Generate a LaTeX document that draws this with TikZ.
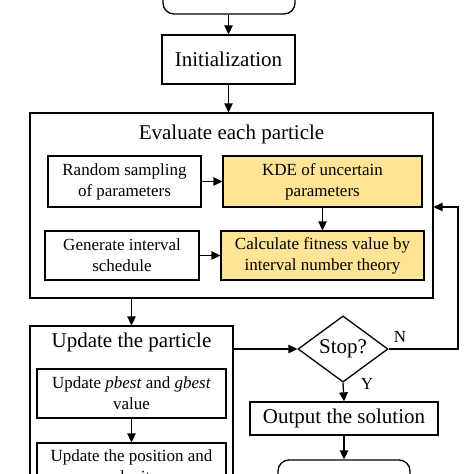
\documentclass[tikz,border=0pt]{standalone}
\usepackage{fontspec}
\setmainfont{Liberation Serif}
\usetikzlibrary{shapes.geometric,arrows.meta}
\definecolor{gold}{RGB}{255,228,150}
\begin{document}
\begin{tikzpicture}[x=1pt,y=-1pt,
  line width=1.3pt,
  arr/.style={-{Triangle[length=9pt,width=8.5pt]}},
  boxbig/.style={draw,rectangle,inner sep=0pt,align=center,font=\fontsize{21}{25}\selectfont},
  boxsm/.style={draw,rectangle,inner sep=0pt,align=center,font=\fontsize{17}{21}\selectfont},
  term/.style={draw,rectangle,rounded corners=11pt,inner sep=0pt},
  lbl/.style={font=\fontsize{17}{21}\selectfont,inner sep=0pt}]
\useasboundingbox (0,0) rectangle (474,474);
\begin{scope}
\clip (0,0) rectangle (474,474);
% outer containers
\node[draw,rectangle,inner sep=0pt,minimum width=403pt,minimum height=185pt] (eval) at (231.5,205.5) {};
\node[font=\fontsize{21}{25}\selectfont,inner sep=0pt] (evalt) at (231.5,134) {Evaluate each particle};
\node[draw,rectangle,inner sep=0pt,minimum width=203pt,minimum height=190pt] (update) at (131.5,421) {};
\node[font=\fontsize{21}{25}\selectfont,inner sep=0pt] (updt) at (131.5,342) {Update the particle};
% terminals
\node[term,minimum width=132pt,minimum height=44pt] (start) at (229,-8) {};
\node[term,minimum width=132pt,minimum height=50pt] (end) at (344,485) {};
% boxes
\node[boxbig,minimum width=133pt,minimum height=49pt] (init) at (228.5,59.5) {Initialization};
\node[boxsm,minimum width=153pt,minimum height=51pt] (rand) at (124.5,181.5) {Random sampling\\of parameters};
\node[boxsm,fill=gold,minimum width=199pt,minimum height=51pt] (kde) at (322.5,181.5) {KDE of uncertain\\parameters};
\node[boxsm,minimum width=154pt,minimum height=49pt] (gen) at (122,255.5) {Generate interval\\schedule};
\node[boxsm,fill=gold,minimum width=203pt,minimum height=49pt] (calc) at (322.5,255.5) {Calculate fitness value by\\interval number theory};
\node[boxsm,minimum width=189pt,minimum height=49pt] (pbest) at (131.5,393.5) {Update \textit{pbest} and \textit{gbest}\\value};
\node[boxsm,minimum width=189pt,minimum height=50pt] (pos) at (131.5,468) {Update the position and\\velocity};
\node[draw,diamond,inner sep=0pt,minimum width=90pt,minimum height=48pt,font=\fontsize{21}{25}\selectfont] (stop) at (343,349) {Stop?};
\node[boxbig,minimum width=188pt,minimum height=33pt] (out) at (344,418.5) {Output the solution};
\coordinate (fb) at (458,207);
% connectors
\draw[arr] (start.south -| init.north) -- (init.north);
\draw[arr] (init.south) -- (init.south |- eval.north);
\draw[arr] (rand) -- (kde);
\draw[arr] (kde) -- (calc);
\draw[arr] (gen) -- (calc);
\draw[arr] (update.north |- eval.south) -- (update.north);
\draw[arr] (pbest) -- (pos);
\draw[arr] (update.east |- stop.west) -- (stop.west);
\draw[arr] (stop.east) -| (fb) -- (eval.east |- fb);
\draw[arr] (stop.south) -- (out.north);
\draw[arr] (out.south) -- (end.north);
\node[lbl] (nlab) at (400,337) {N};
\node[lbl] (ylab) at (367,384) {Y};
\end{scope}
\end{tikzpicture}
\end{document}
